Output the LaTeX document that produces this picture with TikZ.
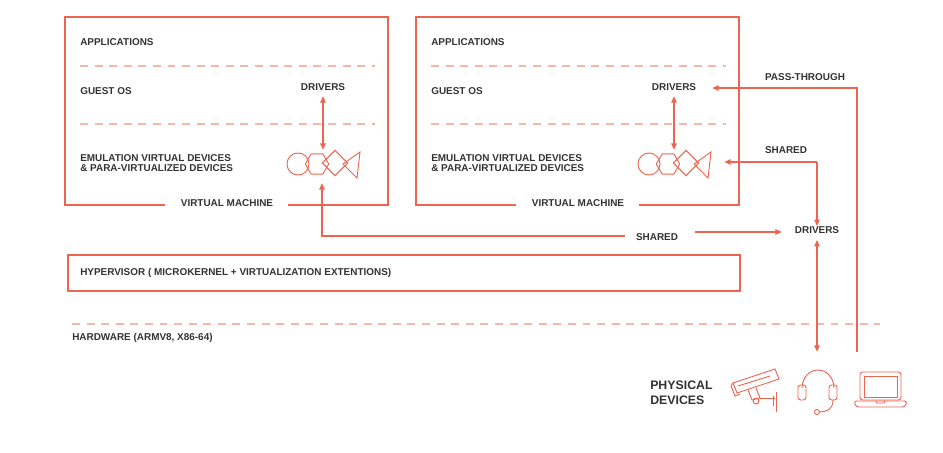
\documentclass[tikz,border=0pt]{standalone}
\usepackage{fontspec}
\setmainfont{Liberation Sans}
\usetikzlibrary{arrows.meta,shapes.geometric}
\definecolor{sal}{HTML}{EC6550}
\definecolor{dsh}{HTML}{F3B8AC}
\begin{document}
\begin{tikzpicture}[x=0.0265cm,y=-0.0265cm,
  box/.style={draw=sal,line width=1.6pt},
  ln/.style={draw=sal,line width=1.4pt},
  ar/.style={ln,-{Triangle[length=5pt,width=4pt]}},
  dar/.style={ln,{Triangle[length=5pt,width=4pt]}-{Triangle[length=5pt,width=4pt]}},
  dl/.style={draw=dsh,line width=0.8pt,dash pattern=on 6pt off 5pt},
  t/.style={font=\fontsize{7.5}{8.6}\selectfont\bfseries,text=black!80,inner sep=0pt},
  tl/.style={t,anchor=west},
  ic/.style={draw=sal,line width=0.7pt}]
\useasboundingbox (0,0) rectangle (943,453);
% VM boxes
\foreach \x/\n in {65/a,416/b}{
  \draw[box] (\x+100,205) -- (\x,205) -- (\x,17) -- (\x+323,17) -- (\x+323,205) -- (\x+223,205);
  \draw[dl] (\x+15,66) -- (\x+310,66);
  \draw[dl] (\x+15,124) -- (\x+310,124);
  \node[tl] (app\n) at (\x+15,42) {APPLICATIONS};
  \node[tl] (gos\n) at (\x+15,91) {GUEST OS};
  \node[tl,align=left] (emu\n) at (\x+15,163) {EMULATION VIRTUAL DEVICES\\[-0.5pt]\& PARA-VIRTUALIZED DEVICES};
  \node[t] (vm\n) at (\x+162,203) {VIRTUAL MACHINE};
  \node[t] (drv\n) at (\x+258,87) {DRIVERS};
  \draw[ic] (\x+233,164) circle (11);
  \node[ic,regular polygon,regular polygon sides=6,minimum size=0.62cm,inner sep=0] (hx\n) at (\x+252,164) {};
  \node[ic,diamond,minimum size=0.68cm,inner sep=0] (dm\n) at (\x+270,163) {};
  \draw[ic] (\x+278,164) -- (\x+295,152) -- (\x+292,178) -- cycle;
  \draw[dar] (\x+258,96) -- (\x+258,150);
}
% hypervisor
\draw[box] (68,255) rectangle (740,291);
\node[tl] (hyp) at (80,273) {HYPERVISOR ( MICROKERNEL + VIRTUALIZATION EXTENTIONS)};
% hardware
\draw[dl] (72,324) -- (880,324);
\node[tl] (hw) at (72,338) {HARDWARE (ARMV8, X86-64)};
% right side
\node[t] (pt) at (805,77) {PASS-THROUGH};
\node[t] (sh1) at (786,150) {SHARED};
\node[t] (drvr) at (817,230) {DRIVERS};
\node[t] (sh2) at (657,237) {SHARED};
\coordinate (cam) at (817,352);
\coordinate (lap) at (857,352);
\draw[ar] (lap) -- (857,88) -- (712,88);
\draw[ar] (817,162) -- (724,162);
\draw[ar] (817,162) -- (drvr.north);
\draw[dar] (drvr.south) ++(0,6) -- (cam);
\draw[ar] (625,236) -- (322,236) -- (322,183);
\draw[ar] (695,232) -- (782,232);
% physical devices
\node[tl,font=\fontsize{9.3}{11}\selectfont\bfseries,align=left] (pd) at (650,393) {PHYSICAL\\DEVICES};
% camera
\begin{scope}[ic]
\draw (733,383) -- (775,369) -- (779,379) -- (737,393) -- cycle;
\draw (738,386) -- (770,376);
\draw (733,383) -- (731,386) -- (735,396) -- (740,394);
\draw (748,390) -- (752,400) -- (760,398) -- (756,388);
\draw (760,398) -- (775,398);
\draw (756,401) circle (3);
\draw (776,392) -- (776,412);
\draw (773,396) -- (773,406);
% headset
\draw (802,388) arc (180:360:16 and 18);
\draw[rounded corners=2] (798,385) rectangle (806,400);
\draw[rounded corners=2] (829,385) rectangle (837,400);
\draw (833,400) .. controls (833,410) and (826,412) .. (819,412);
\draw (817,412) circle (2.5);
% laptop
\draw[rounded corners=2] (860,372) rectangle (901,400);
\draw (864,376) rectangle (897,397);
\draw[rounded corners=2] (854,401) -- (907,401) -- (905,407) -- (856,407) -- cycle;
\draw (876,401) -- (877,403) -- (884,403) -- (885,401);
\end{scope}
\end{tikzpicture}
\end{document}
